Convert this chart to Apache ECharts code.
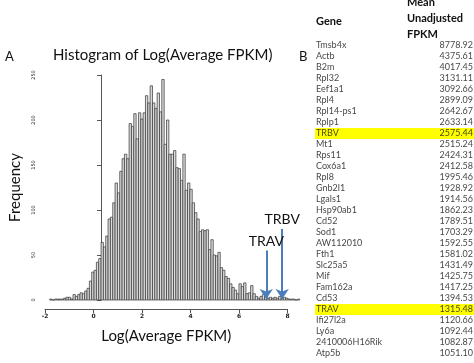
<!DOCTYPE html>
<html><head><meta charset="utf-8">
<script src="https://cdn.jsdelivr.net/npm/echarts@6/dist/echarts.min.js"></script>
<style>html,body{margin:0;padding:0;background:#fff}#c{width:474px;height:363px}</style>
</head><body><div id="c"></div>
<script>
// ---- Histogram data (bins of width 0.1 starting at -2.2) ----
const binStart = -2.2;
const binWidth = 0.1;
const freq = [
  1,0,1,1,1,1,2,3,3,1,            // -2.2 .. -1.3
  6,4,6,8,7,10,13,21,31,33,       // -1.2 .. -0.3
  42,46,64,59,71,90,92,108,130,119, // -0.2 .. 0.7
  143,157,162,157,196,193,207,179,208,201, // 0.8 .. 1.7
  208,227,219,238,219,213,230,209,245,173, // 1.8 .. 2.7
  200,162,162,166,147,146,133,162,122,130, // 2.8 .. 3.7
  123,108,97,90,76,78,77,78,56,67,         // 3.8 .. 4.7
  50,49,53,36,33,26,24,18,14,11,           // 4.8 .. 5.7
  7,18,15,19,7,8,16,7,4,2,                 // 5.8 .. 6.7
  4,6,4,2,3,2,3,2,4,2,                     // 6.8 .. 7.7
  3,2,1,1,1,0,1                            // 7.8 .. 8.4
];
const arrowNames = ['TRAV', 'TRBV'];
const arrowX = [7.07, 7.75];
const arrowTop = [55, 79];
const arrowBottom = 1;

// ---- Table data ----
const genes = ['Tmsb4x','Actb','B2m','Rpl32','Eef1a1','Rpl4','Rpl14-ps1','Rplp1','TRBV','Mt1','Rps11','Cox6a1','Rpl8','Gnb2l1','Lgals1','Hsp90ab1','Cd52','Sod1','AW112010','Fth1','Slc25a5','Mif','Fam162a','Cd53','TRAV','Ifi27l2a','Ly6a','2410006H16Rik','Atp5b'];
const fpkm = ['8778.92','4375.61','4017.45','3131.11','3092.66','2899.09','2642.67','2633.14','2575.44','2515.24','2424.31','2412.58','1995.46','1928.92','1914.56','1862.23','1789.51','1703.29','1592.55','1581.02','1431.49','1425.75','1417.25','1394.53','1315.48','1120.66','1092.44','1082.87','1051.10'];
const highlighted = ['TRBV', 'TRAV'];

const FONT = 'Lato, "Open Sans", sans-serif';
const chart = echarts.init(document.getElementById('c'), null, {renderer: 'canvas'});

const histData = freq.map((f, i) => [Math.round((binStart + i * binWidth) * 10) / 10, f]);

chart.setOption({
  animation: false,
  backgroundColor: '#fff',
  title: [
    {text: 'Histogram of Log(Average FPKM)', left: 53, top: 48, padding: 0,
     textStyle: {fontFamily: FONT, fontSize: 15, fontWeight: 'normal', color: '#111'}},
    {text: 'A', left: 5, top: 50, padding: 0,
     textStyle: {fontFamily: FONT, fontSize: 13, fontWeight: 'normal', color: '#111'}},
    {text: 'B', left: 299, top: 50, padding: 0,
     textStyle: {fontFamily: FONT, fontSize: 13, fontWeight: 'normal', color: '#111'}},
    {text: 'Gene', left: 316, top: 16, padding: 0,
     textStyle: {fontFamily: FONT, fontSize: 11, fontWeight: 'bold', color: '#111'}},
    {text: 'Mean\nUnadjusted\nFPKM', left: 407, top: -6, padding: 0,
     textStyle: {fontFamily: FONT, fontSize: 11, fontWeight: 'bold', color: '#111', lineHeight: 16}}
  ],
  grid: [
    {left: 29, right: 171.95, top: 75, bottom: 63},
    {left: 45, right: 186.5, top: 308, height: 1},
    {left: 315, right: 0, top: 40, bottom: 4}
  ],
  xAxis: [
    {gridIndex: 0, type: 'value', min: -2.66, max: 8.6, show: false},
    {gridIndex: 1, type: 'value', min: -2, max: 8, interval: 2, position: 'bottom',
     axisLine: {show: true, lineStyle: {color: '#555', width: 1}},
     axisTick: {show: true, length: 4, lineStyle: {color: '#555'}},
     splitLine: {show: false},
     axisLabel: {fontSize: 6, fontWeight: 'bold', color: '#222', margin: 4, fontFamily: 'DejaVu Sans'},
     name: 'Log(Average FPKM)', nameLocation: 'middle', nameGap: 20,
     nameTextStyle: {fontFamily: FONT, fontSize: 15, color: '#111'}},
    {gridIndex: 2, type: 'value', min: 0, max: 1, show: false}
  ],
  yAxis: [
    {gridIndex: 0, type: 'value', min: 0, max: 250, interval: 50,
     axisLine: {show: true, lineStyle: {color: '#555', width: 1}},
     axisTick: {show: true, length: 4, lineStyle: {color: '#555'}},
     splitLine: {show: false},
     axisLabel: {rotate: 90, fontSize: 5, color: '#222', margin: 3, fontFamily: 'DejaVu Sans'},
     name: 'Frequency', nameLocation: 'middle', nameGap: 15,
     nameTextStyle: {fontFamily: FONT, fontSize: 15, color: '#111'}},
    {gridIndex: 1, type: 'value', show: false},
    {gridIndex: 2, type: 'category', data: genes, inverse: true, show: false}
  ],
  series: [
    {
      type: 'custom', xAxisIndex: 0, yAxisIndex: 0, data: histData, clip: false,
      renderItem: function (params, api) {
        const x0 = api.value(0), h = api.value(1);
        const p0 = api.coord([x0, h]);
        const p1 = api.coord([x0 + binWidth, 0]);
        return {type: 'rect',
          shape: {x: p0[0], y: p0[1], width: p1[0] - p0[0], height: p1[1] - p0[1]},
          style: {fill: '#dcdcdc', stroke: '#3c3c3c', lineWidth: 0.75}};
      },
      markLine: {
        silent: true, animation: false, z: 10,
        symbol: ['none', 'arrow'], symbolSize: 10,
        lineStyle: {color: '#4a7ebb', width: 2, type: 'solid'},
        itemStyle: {color: '#3f73b3'},
        label: {show: true, position: 'start', formatter: '{b}', distance: 2,
                fontFamily: FONT, fontSize: 14, color: '#111'},
        data: arrowNames.map((n, i) => [
          {name: n, coord: [arrowX[i], arrowTop[i]]},
          {coord: [arrowX[i], arrowBottom]}
        ])
      }
    },
    {
      type: 'bar', xAxisIndex: 2, yAxisIndex: 2, barWidth: '100%', silent: true,
      itemStyle: {color: '#ffff00'},
      data: genes.map(g => highlighted.indexOf(g) >= 0 ? 1 : '-')
    },
    {
      type: 'scatter', xAxisIndex: 2, yAxisIndex: 2, symbolSize: 0, silent: true,
      data: genes.map(g => [0, g]),
      label: {show: true, position: 'right', distance: 1, formatter: p => p.value[1],
              fontFamily: FONT, fontSize: 9, color: '#111'}
    },
    {
      type: 'scatter', xAxisIndex: 2, yAxisIndex: 2, symbolSize: 0, silent: true,
      data: genes.map((g, i) => [1, g, fpkm[i]]),
      label: {show: true, position: 'left', distance: 1, formatter: p => p.value[2],
              fontFamily: FONT, fontSize: 9, color: '#111'}
    }
  ]
});
</script>
</body></html>
